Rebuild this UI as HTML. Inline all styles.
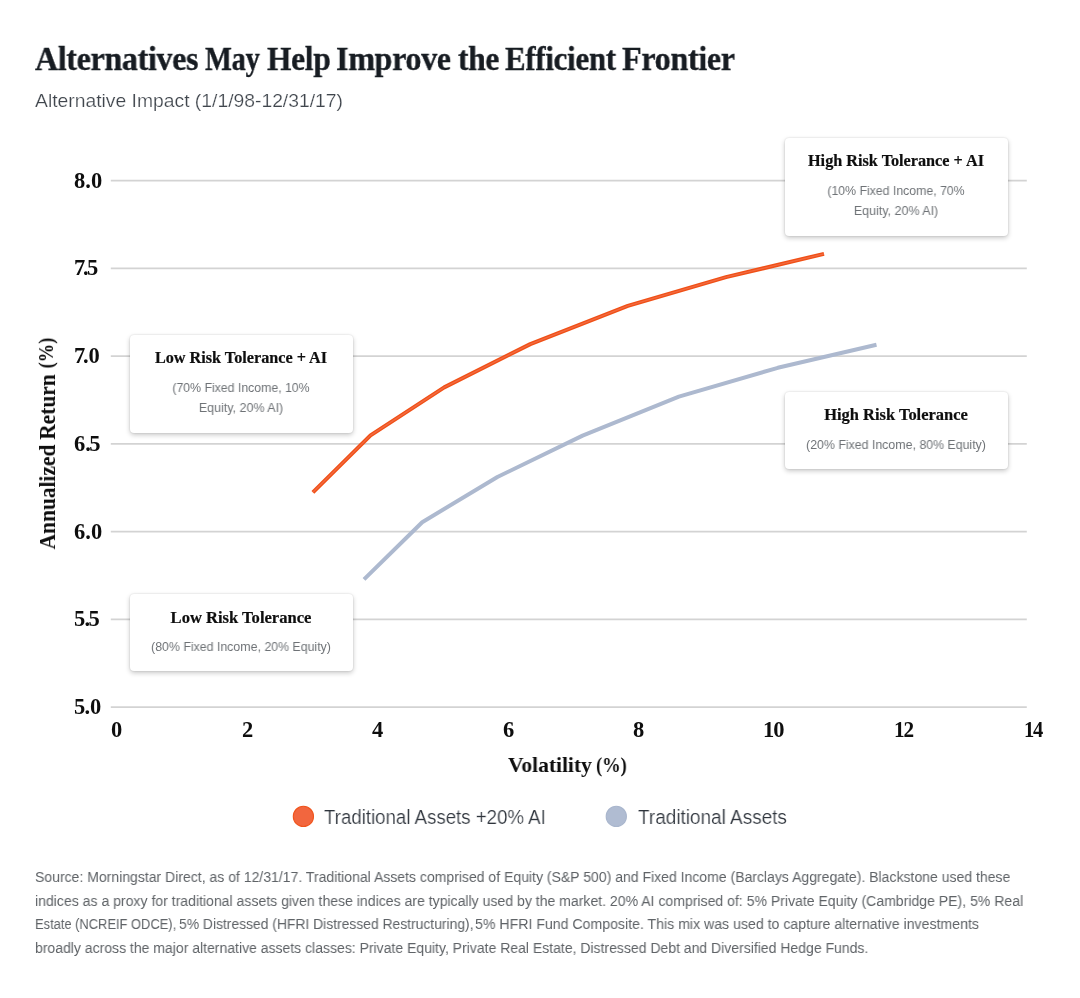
<!DOCTYPE html>
<html lang="en">
<head>
<meta charset="utf-8">
<title>Alternatives May Help Improve the Efficient Frontier</title>
<style>
  html, body { margin: 0; padding: 0; background: #ffffff; }
  h1, h2, p, section, figure, footer { margin: 0; padding: 0; font: inherit; }
  body { width: 1080px; height: 998px; position: relative; overflow: hidden;
         font-family: "Liberation Sans", sans-serif; color: #111; }
  .abs { position: absolute; white-space: nowrap; transform-origin: 0 50%; will-change: transform; }
  .serif { font-family: "Liberation Serif", serif; font-weight: bold; color: #0e0e0e; }
  .sans { font-family: "Liberation Sans", sans-serif; }
  .box { position: absolute; background: #fff; border-radius: 4px;
         box-shadow: 0 2px 5px rgba(0,0,0,0.22), 0 0 2px rgba(0,0,0,0.15); }
  .ctr { position: absolute; white-space: nowrap; transform-origin: 50% 50%; will-change: transform; }
  .bt { font-family: "Liberation Serif", serif; font-weight: bold; color: #0e0e0e; -webkit-text-stroke: 0.2px #0e0e0e; }
  .bs { font-family: "Liberation Sans", sans-serif; color: #6e7276; }
  .leg { color: #2e343c; -webkit-text-stroke: 0.2px #ffffff; }
  .foot { color: #5f6367; }
</style>
</head>
<body>
<h1>
<span class="abs serif" id="tw0" style="left:35.03px;top:39.4px;font-size:34px;line-height:40px;letter-spacing:-0.35px;color:#171c22;transform:scaleX(0.941);-webkit-text-stroke:0.35px #171c22">Alternatives</span>
<span class="abs serif" id="tw1" style="left:205.08px;top:39.4px;font-size:34px;line-height:40px;letter-spacing:-0.35px;color:#171c22;transform:scaleX(0.8371);-webkit-text-stroke:0.35px #171c22">May</span>
<span class="abs serif" id="tw2" style="left:267.0px;top:39.4px;font-size:34px;line-height:40px;letter-spacing:-0.35px;color:#171c22;transform:scaleX(0.9265);-webkit-text-stroke:0.35px #171c22">Help</span>
<span class="abs serif" id="tw3" style="left:335.57px;top:39.4px;font-size:34px;line-height:40px;letter-spacing:-0.35px;color:#171c22;transform:scaleX(0.9437);-webkit-text-stroke:0.35px #171c22">Improve</span>
<span class="abs serif" id="tw4" style="left:458.0px;top:39.4px;font-size:34px;line-height:40px;letter-spacing:-0.35px;color:#171c22;transform:scaleX(0.9261);-webkit-text-stroke:0.35px #171c22">the</span>
<span class="abs serif" id="tw5" style="left:505.0px;top:39.4px;font-size:34px;line-height:40px;letter-spacing:-0.35px;color:#171c22;transform:scaleX(0.9119);-webkit-text-stroke:0.35px #171c22">Efficient</span>
<span class="abs serif" id="tw6" style="left:622.03px;top:39.4px;font-size:34px;line-height:40px;letter-spacing:-0.35px;color:#171c22;transform:scaleX(0.9454);-webkit-text-stroke:0.35px #171c22">Frontier</span>
</h1>
<p class="abs sans" id="subtitle" style="left:34.5px;top:88.9px;font-size:18.5px;line-height:24px;letter-spacing:0px;color:#40464d;-webkit-text-stroke:0.22px #ffffff;transform:scaleX(1.0435)">Alternative Impact (1/1/98-12/31/17)</p>

<!-- gridlines -->
<svg style="position:absolute;left:0;top:0" width="1080" height="998" viewBox="0 0 1080 998">
  <line x1="110.8" x2="1026.8" y1="180.65" y2="180.65" stroke="#d3d3d3" stroke-width="1.6"/>
  <line x1="110.8" x2="1026.8" y1="268.40" y2="268.40" stroke="#d3d3d3" stroke-width="1.6"/>
  <line x1="110.8" x2="1026.8" y1="356.15" y2="356.15" stroke="#d3d3d3" stroke-width="1.6"/>
  <line x1="110.8" x2="1026.8" y1="443.90" y2="443.90" stroke="#d3d3d3" stroke-width="1.6"/>
  <line x1="110.8" x2="1026.8" y1="531.65" y2="531.65" stroke="#d3d3d3" stroke-width="1.6"/>
  <line x1="110.8" x2="1026.8" y1="619.40" y2="619.40" stroke="#d3d3d3" stroke-width="1.6"/>
  <line x1="110.8" x2="1026.8" y1="707.15" y2="707.15" stroke="#d3d3d3" stroke-width="1.6"/>
</svg>

<!-- y axis labels -->
<div class="abs serif" id="yl0" style="left:73.9px;top:168.50px;font-size:22.5px;line-height:24px">8.0</div>
<div class="abs serif" id="yl1" style="left:73.9px;top:256.25px;font-size:22.5px;line-height:24px"><span style="letter-spacing:-2.3px">7</span><span style="letter-spacing:-1.5px">.</span>5</div>
<div class="abs serif" id="yl2" style="left:73.9px;top:344.00px;font-size:22.5px;line-height:24px"><span style="letter-spacing:-2.3px">7</span>.0</div>
<div class="abs serif" id="yl3" style="left:73.9px;top:431.75px;font-size:22.5px;line-height:24px">6<span style="letter-spacing:-1.7px">.</span>5</div>
<div class="abs serif" id="yl4" style="left:73.9px;top:519.50px;font-size:22.5px;line-height:24px">6.0</div>
<div class="abs serif" id="yl5" style="left:73.9px;top:607.25px;font-size:22.5px;line-height:24px"><span style="letter-spacing:-0.8px">5</span><span style="letter-spacing:-1.5px">.</span>5</div>
<div class="abs serif" id="yl6" style="left:73.9px;top:695.00px;font-size:22.5px;line-height:24px"><span style="letter-spacing:-0.8px">5</span>.0</div>

<!-- x axis labels -->
<div class="abs serif" id="xl0" style="left:111.00px;top:717.5px;font-size:22.5px;line-height:24px">0</div>
<div class="abs serif" id="xl1" style="left:241.57px;top:717.5px;font-size:22.5px;line-height:24px">2</div>
<div class="abs serif" id="xl2" style="left:372.14px;top:717.5px;font-size:22.5px;line-height:24px">4</div>
<div class="abs serif" id="xl3" style="left:502.71px;top:717.5px;font-size:22.5px;line-height:24px">6</div>
<div class="abs serif" id="xl4" style="left:633.28px;top:717.5px;font-size:22.5px;line-height:24px">8</div>
<div class="abs serif" id="xl5" style="left:763.15px;top:717.5px;font-size:22.5px;line-height:24px"><span style="letter-spacing:-1px">1</span>0</div>
<div class="abs serif" id="xl6" style="left:893.72px;top:717.5px;font-size:22.5px;line-height:24px"><span style="display:inline-block;transform-origin:0 50%;transform:scaleX(0.944)"><span style="letter-spacing:-1.2px">1</span>2</span></div>
<div class="abs serif" id="xl7" style="left:1024.29px;top:717.5px;font-size:22.5px;line-height:24px"><span style="display:inline-block;transform-origin:0 50%;transform:scaleX(0.912)"><span style="letter-spacing:-1.5px">1</span>4</span></div>
<div class="ctr serif" id="yt0" style="left:47.6px;top:496.9px;font-size:23px;line-height:24px;transform:translate(-50%,-50%) rotate(-90deg) scaleX(0.931)">Annualized</div>
<div class="ctr serif" id="yt1" style="left:47.6px;top:406.6px;font-size:23px;line-height:24px;transform:translate(-50%,-50%) rotate(-90deg) scaleX(0.931)">Return</div>
<div class="ctr serif" id="yt2" style="left:46.3px;top:353.4px;font-size:20.5px;line-height:24px;transform:translate(-50%,-50%) rotate(-90deg) scaleX(0.9)">(%)</div>
<div class="abs serif" id="xt0" style="left:508.0px;top:753.0px;font-size:22px;line-height:24px;transform:scaleX(0.974)">Volatility</div>
<div class="abs serif" id="xt1" style="left:596.2px;top:753.0px;font-size:22px;line-height:24px;transform:scaleX(0.84)">(%)</div>

<!-- series lines -->
<svg style="position:absolute;left:0;top:0" width="1080" height="998" viewBox="0 0 1080 998">
  <polyline fill="none" stroke="#adb9cf" stroke-width="4" stroke-linejoin="round" points="364.0,579.4 422.2,522.2 497.4,477.0 582.6,435.6 678.9,396.7 777.8,367.8 876.5,344.8"/>
  <polyline fill="none" stroke="#f05016" stroke-width="4" stroke-linejoin="round" points="312.9,492.3 370.5,435.4 444.2,387.4 530.3,344.1 627.8,305.9 726.0,277.1 824.0,253.9"/>
  <polyline fill="none" stroke="#f26a42" stroke-width="1.3" stroke-linejoin="round" points="312.9,492.3 370.5,435.4 444.2,387.4 530.3,344.1 627.8,305.9 726.0,277.1 824.0,253.9"/>
</svg>

<!-- annotation boxes -->
<div class="box" id="b1" style="left:784.7px;top:137.5px;width:223px;height:98.3px">
  <div class="ctr bt" id="b1t" style="left:111.5px;top:13.4px;font-size:16px;line-height:20px;transform:translateX(-50%) scaleX(1.0138)">High Risk Tolerance + AI</div>
  <div class="ctr bs" id="b1s0" style="left:111.5px;top:43.0px;font-size:12.5px;line-height:20px;transform:translateX(-50%) scaleX(0.9827)">(10% Fixed Income, 70%</div>
  <div class="ctr bs" id="b1s1" style="left:111.5px;top:63.4px;font-size:12.5px;line-height:20px;transform:translateX(-50%) scaleX(0.9976)">Equity, 20% AI)</div>
</div>
<div class="box" id="b2" style="left:129.7px;top:334.5px;width:223px;height:98.3px">
  <div class="ctr bt" id="b2t" style="left:111.5px;top:13.4px;font-size:16px;line-height:20px;transform:translateX(-50%) scaleX(1.0118)">Low Risk Tolerance + AI</div>
  <div class="ctr bs" id="b2s0" style="left:111.5px;top:43.0px;font-size:12.5px;line-height:20px;transform:translateX(-50%) scaleX(0.9827)">(70% Fixed Income, 10%</div>
  <div class="ctr bs" id="b2s1" style="left:111.5px;top:63.4px;font-size:12.5px;line-height:20px;transform:translateX(-50%) scaleX(0.9976)">Equity, 20% AI)</div>
</div>
<div class="box" id="b3" style="left:784.7px;top:391.6px;width:223px;height:77px">
  <div class="ctr bt" id="b3t" style="left:111.5px;top:13.5px;font-size:16px;line-height:20px;transform:translateX(-50%) scaleX(1.0286)">High Risk Tolerance</div>
  <div class="ctr bs" id="b3s0" style="left:111.5px;top:43.7px;font-size:12.5px;line-height:20px;transform:translateX(-50%) scaleX(0.9884)">(20% Fixed Income, 80% Equity)</div>
</div>
<div class="box" id="b4" style="left:129.7px;top:594.0px;width:223px;height:77px">
  <div class="ctr bt" id="b4t" style="left:111.5px;top:13.5px;font-size:16px;line-height:20px;transform:translateX(-50%) scaleX(1.0353)">Low Risk Tolerance</div>
  <div class="ctr bs" id="b4s0" style="left:111.5px;top:43.3px;font-size:12.5px;line-height:20px;transform:translateX(-50%) scaleX(0.9884)">(80% Fixed Income, 20% Equity)</div>
</div>

<!-- legend -->
<svg style="position:absolute;left:0;top:0" width="1080" height="998" viewBox="0 0 1080 998"><circle cx="303.4" cy="816.4" r="10.1" fill="#f2663e" stroke="#f0541c" stroke-width="1.1"/><circle cx="616.3" cy="816.4" r="10.1" fill="#b0bcd2" stroke="#a9b6cd" stroke-width="1.1"/></svg>
<div class="abs sans leg" id="leg1" style="left:324.1px;top:805.4px;font-size:20px;line-height:24px;transform:scaleX(0.933)">Traditional Assets +20% AI</div>
<div class="abs sans leg" id="leg2" style="left:637.5px;top:805.4px;font-size:20px;line-height:24px;transform:scaleX(0.948)">Traditional Assets</div>

<!-- footnote -->
<footer>
<div class="abs sans foot" id="f0" style="left:34.6px;top:867.30px;font-size:14.7px;line-height:20px;transform:scaleX(0.9544)">Source: Morningstar Direct, as of 12/31/17. Traditional Assets comprised of Equity (S&amp;P 500) and Fixed Income (Barclays Aggregate). Blackstone used these</div>
<div class="abs sans foot" id="f1" style="left:34.6px;top:890.80px;font-size:14.7px;line-height:20px;transform:scaleX(0.9569)">indices as a proxy for traditional assets given these indices are typically used by the market. 20% AI comprised of: 5% Private Equity (Cambridge PE), 5% Real</div>
<div class="abs sans foot" id="f2a" style="left:34.9px;top:914.30px;font-size:14.7px;line-height:20px;transform:scaleX(0.878)">Estate (NCREIF ODCE),</div>
<div class="abs sans foot" id="f2b" style="left:178.86px;top:914.30px;font-size:14.7px;line-height:20px;transform:scaleX(0.9445)">5% Distressed (HFRI Distressed Restructuring),</div>
<div class="abs sans foot" id="f2c" style="left:475.46px;top:914.30px;font-size:14.7px;line-height:20px;transform:scaleX(0.962)">5% HFRI Fund Composite. This mix was used to capture alternative investments</div>
<div class="abs sans foot" id="f3" style="left:34.6px;top:937.80px;font-size:14.7px;line-height:20px;transform:scaleX(0.9534)">broadly across the major alternative assets classes: Private Equity, Private Real Estate, Distressed Debt and Diversified Hedge Funds.</div>
</footer>

</body>
</html>
